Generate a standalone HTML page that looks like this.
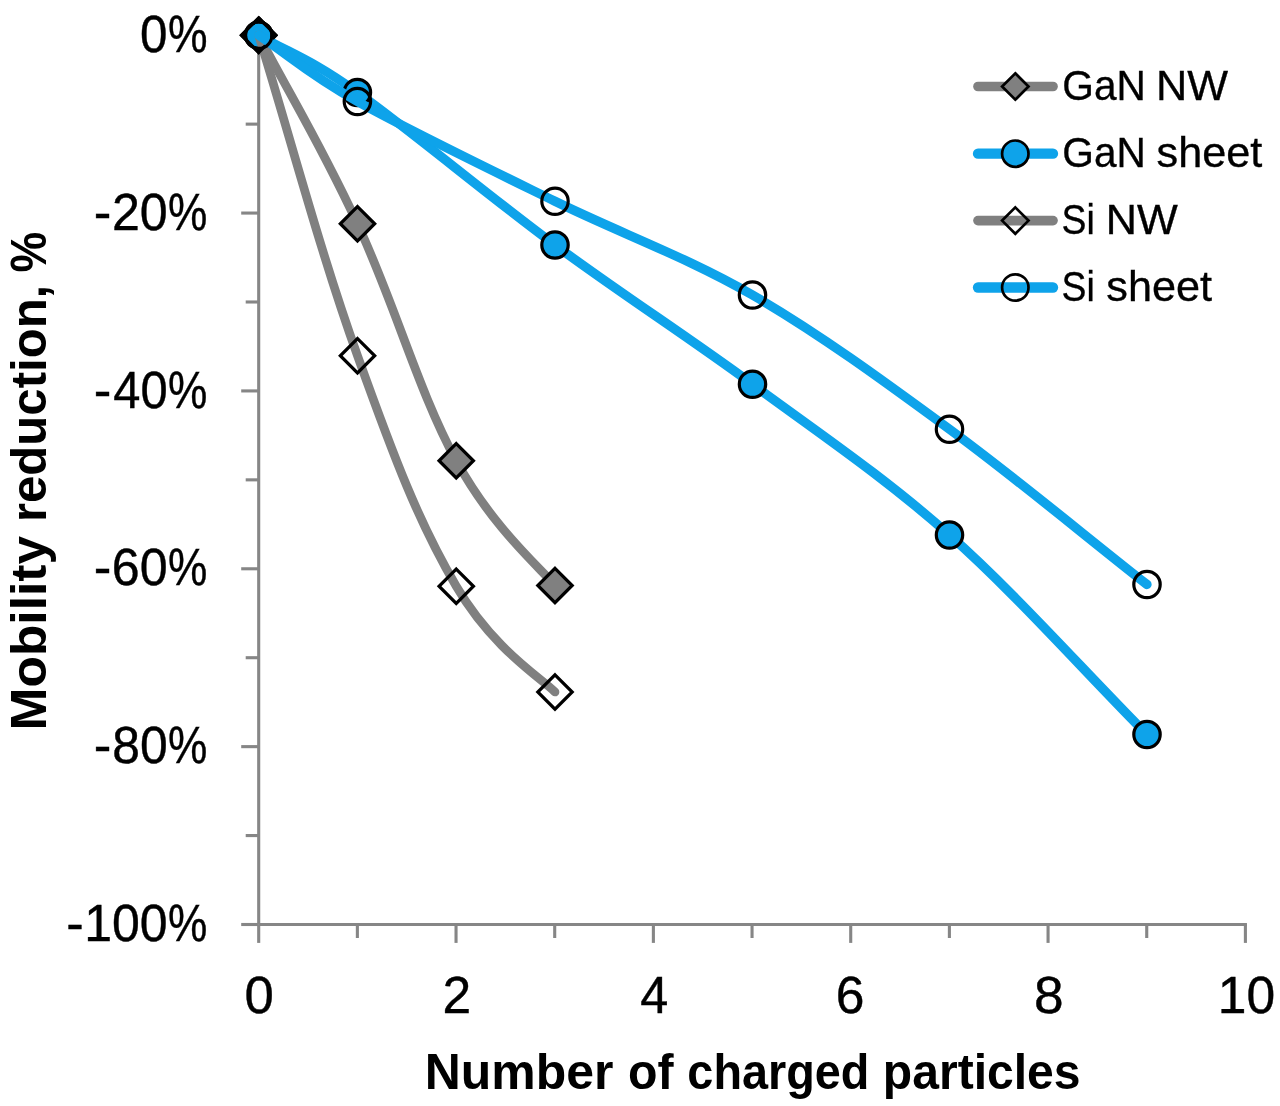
<!DOCTYPE html>
<html lang="en"><head><meta charset="utf-8"><title>Mobility reduction vs number of charged particles</title>
<style>
html,body{margin:0;padding:0;background:#fff;}
body{width:1280px;height:1106px;overflow:hidden;}
svg{display:block;}
text{font-family:"Liberation Sans",sans-serif;fill:#000;}
.t{font-size:51px;stroke:#000;stroke-width:0.4px;}
.b{font-size:49.5px;font-weight:bold;}
.l{font-size:42.5px;stroke:#000;stroke-width:0.35px;}
</style></head><body>
<svg width="1280" height="1106" viewBox="0 0 1280 1106">
<rect width="1280" height="1106" fill="#fff"/>
<g stroke="#868686" stroke-width="3.1" fill="none">
<path d="M258.70 35.20 V924.50"/>
<path d="M258.70 924.50 H1246.95"/>
<path d="M241.20 35.20 H258.70"/>
<path d="M245.70 124.13 H258.70"/>
<path d="M241.20 213.06 H258.70"/>
<path d="M245.70 301.99 H258.70"/>
<path d="M241.20 390.92 H258.70"/>
<path d="M245.70 479.85 H258.70"/>
<path d="M241.20 568.78 H258.70"/>
<path d="M245.70 657.71 H258.70"/>
<path d="M241.20 746.64 H258.70"/>
<path d="M245.70 835.57 H258.70"/>
<path d="M241.20 924.50 H258.70"/>
<path d="M258.70 924.50 V942.90"/>
<path d="M357.37 924.50 V938.00"/>
<path d="M456.04 924.50 V942.90"/>
<path d="M554.71 924.50 V938.00"/>
<path d="M653.38 924.50 V942.90"/>
<path d="M752.05 924.50 V938.00"/>
<path d="M850.72 924.50 V942.90"/>
<path d="M949.39 924.50 V938.00"/>
<path d="M1048.06 924.50 V942.90"/>
<path d="M1146.73 924.50 V938.00"/>
<path d="M1245.40 924.50 V942.90"/>
</g>
<path d="M258.70 35.20 C291.63 98.05 319.97 142.90 357.50 223.75 C395.03 304.60 418.73 392.02 456.25 460.75 C493.77 529.48 543.15 570.53 555.00 585.50" fill="none" stroke="#808080" stroke-width="8.7" stroke-linecap="round" stroke-linejoin="round"/>
<path d="M258.70 18.00 L275.90 35.20 L258.70 52.40 L241.50 35.20 Z" fill="#808080" stroke="#000" stroke-width="3.2" stroke-linejoin="miter"/>
<path d="M357.50 206.55 L374.70 223.75 L357.50 240.95 L340.30 223.75 Z" fill="#808080" stroke="#000" stroke-width="3.2" stroke-linejoin="miter"/>
<path d="M456.25 443.55 L473.45 460.75 L456.25 477.95 L439.05 460.75 Z" fill="#808080" stroke="#000" stroke-width="3.2" stroke-linejoin="miter"/>
<path d="M555.00 568.30 L572.20 585.50 L555.00 602.70 L537.80 585.50 Z" fill="#808080" stroke="#000" stroke-width="3.2" stroke-linejoin="miter"/>
<path d="M258.70 35.20 C291.60 54.30 308.02 57.53 357.40 92.50 C406.78 127.47 489.15 196.38 555.00 245.00 C620.85 293.62 686.75 335.92 752.50 384.25 C818.25 432.58 883.75 476.62 949.50 535.00 C1015.25 593.38 1081.17 668.00 1147.00 734.50" fill="none" stroke="#0ea3ea" stroke-width="9.3" stroke-linecap="round" stroke-linejoin="round"/>
<circle cx="258.70" cy="35.20" r="13.2" fill="#0ea3ea" stroke="#000" stroke-width="3.2"/>
<circle cx="357.40" cy="92.50" r="13.2" fill="#0ea3ea" stroke="#000" stroke-width="3.2"/>
<circle cx="555.00" cy="245.00" r="13.2" fill="#0ea3ea" stroke="#000" stroke-width="3.2"/>
<circle cx="752.50" cy="384.25" r="13.2" fill="#0ea3ea" stroke="#000" stroke-width="3.2"/>
<circle cx="949.50" cy="535.00" r="13.2" fill="#0ea3ea" stroke="#000" stroke-width="3.2"/>
<circle cx="1147.00" cy="734.50" r="13.2" fill="#0ea3ea" stroke="#000" stroke-width="3.2"/>
<path d="M258.70 35.20 C291.63 142.05 319.97 251.05 357.50 355.75 C395.03 460.45 418.73 522.36 456.25 586.25 C493.77 650.14 543.15 679.31 555.00 692.00" fill="none" stroke="#808080" stroke-width="8.7" stroke-linecap="round" stroke-linejoin="round"/>
<path d="M258.70 18.00 L275.90 35.20 L258.70 52.40 L241.50 35.20 Z" fill="none" stroke="#000" stroke-width="3.2" stroke-linejoin="miter"/>
<path d="M357.50 338.55 L374.70 355.75 L357.50 372.95 L340.30 355.75 Z" fill="none" stroke="#000" stroke-width="3.2" stroke-linejoin="miter"/>
<path d="M456.25 569.05 L473.45 586.25 L456.25 603.45 L439.05 586.25 Z" fill="none" stroke="#000" stroke-width="3.2" stroke-linejoin="miter"/>
<path d="M555.00 674.80 L572.20 692.00 L555.00 709.20 L537.80 692.00 Z" fill="none" stroke="#000" stroke-width="3.2" stroke-linejoin="miter"/>
<path d="M258.70 35.20 C291.60 57.30 308.02 73.83 357.40 101.50 C406.78 129.18 489.15 169.00 555.00 201.25 C620.85 233.50 686.75 257.00 752.50 295.00 C818.25 333.00 883.75 381.00 949.50 429.25 C1015.25 477.50 1081.17 532.75 1147.00 584.50" fill="none" stroke="#0ea3ea" stroke-width="9.3" stroke-linecap="round" stroke-linejoin="round"/>
<circle cx="258.70" cy="35.20" r="13.2" fill="none" stroke="#000" stroke-width="3.2"/>
<circle cx="357.40" cy="101.50" r="13.2" fill="none" stroke="#000" stroke-width="3.2"/>
<circle cx="555.00" cy="201.25" r="13.2" fill="none" stroke="#000" stroke-width="3.2"/>
<circle cx="752.50" cy="295.00" r="13.2" fill="none" stroke="#000" stroke-width="3.2"/>
<circle cx="949.50" cy="429.25" r="13.2" fill="none" stroke="#000" stroke-width="3.2"/>
<circle cx="1147.00" cy="584.50" r="13.2" fill="none" stroke="#000" stroke-width="3.2"/>
<text class="t" y="51.80"><tspan x="139.97" textLength="27.46" lengthAdjust="spacingAndGlyphs">0</tspan><tspan x="167.91" textLength="39.57" lengthAdjust="spacingAndGlyphs">%</tspan></text>
<text class="t" y="229.66"><tspan x="93.75" textLength="17.60" lengthAdjust="spacingAndGlyphs">-</tspan><tspan x="111.88" textLength="55.78" lengthAdjust="spacingAndGlyphs">20</tspan><tspan x="168.12" textLength="39.35" lengthAdjust="spacingAndGlyphs">%</tspan></text>
<text class="t" y="407.52"><tspan x="93.75" textLength="17.60" lengthAdjust="spacingAndGlyphs">-</tspan><tspan x="113.28" textLength="54.33" lengthAdjust="spacingAndGlyphs">40</tspan><tspan x="168.12" textLength="39.35" lengthAdjust="spacingAndGlyphs">%</tspan></text>
<text class="t" y="585.38"><tspan x="93.75" textLength="17.60" lengthAdjust="spacingAndGlyphs">-</tspan><tspan x="111.85" textLength="55.81" lengthAdjust="spacingAndGlyphs">60</tspan><tspan x="168.12" textLength="39.35" lengthAdjust="spacingAndGlyphs">%</tspan></text>
<text class="t" y="763.24"><tspan x="93.75" textLength="17.60" lengthAdjust="spacingAndGlyphs">-</tspan><tspan x="112.24" textLength="55.41" lengthAdjust="spacingAndGlyphs">80</tspan><tspan x="168.12" textLength="39.35" lengthAdjust="spacingAndGlyphs">%</tspan></text>
<text class="t" y="941.10"><tspan x="66.37" textLength="17.46" lengthAdjust="spacingAndGlyphs">-</tspan><tspan x="84.19" textLength="83.46" lengthAdjust="spacingAndGlyphs">100</tspan><tspan x="168.12" textLength="39.35" lengthAdjust="spacingAndGlyphs">%</tspan></text>
<text class="t" y="1012.80"><tspan x="244.54" textLength="29.32" lengthAdjust="spacingAndGlyphs">0</tspan></text>
<text class="t" y="1012.80"><tspan x="442.61" textLength="28.69" lengthAdjust="spacingAndGlyphs">2</tspan></text>
<text class="t" y="1012.80"><tspan x="640.24" textLength="28.03" lengthAdjust="spacingAndGlyphs">4</tspan></text>
<text class="t" y="1012.80"><tspan x="835.78" textLength="28.68" lengthAdjust="spacingAndGlyphs">6</tspan></text>
<text class="t" y="1012.80"><tspan x="1033.99" textLength="29.63" lengthAdjust="spacingAndGlyphs">8</tspan></text>
<text class="t" y="1012.80"><tspan x="1217.87" textLength="57.34" lengthAdjust="spacingAndGlyphs">10</tspan></text>
<text class="b" y="1089.40"><tspan x="424.66" textLength="188.70" lengthAdjust="spacingAndGlyphs">Number</tspan> <tspan x="627.91" textLength="45.59" lengthAdjust="spacingAndGlyphs">of</tspan> <tspan x="687.37" textLength="182.11" lengthAdjust="spacingAndGlyphs">charged</tspan> <tspan x="882.83" textLength="197.74" lengthAdjust="spacingAndGlyphs">particles</tspan></text>
<text class="l" y="99.70"><tspan x="1062.36" textLength="83.45" lengthAdjust="spacingAndGlyphs">GaN</tspan> <tspan x="1156.06" textLength="71.99" lengthAdjust="spacingAndGlyphs">NW</tspan></text>
<text class="l" y="166.90"><tspan x="1062.36" textLength="83.45" lengthAdjust="spacingAndGlyphs">GaN</tspan> <tspan x="1156.60" textLength="105.72" lengthAdjust="spacingAndGlyphs">sheet</tspan></text>
<text class="l" y="233.80"><tspan x="1061.50" textLength="33.21" lengthAdjust="spacingAndGlyphs">Si</tspan> <tspan x="1105.76" textLength="71.99" lengthAdjust="spacingAndGlyphs">NW</tspan></text>
<text class="l" y="300.70"><tspan x="1061.50" textLength="33.21" lengthAdjust="spacingAndGlyphs">Si</tspan> <tspan x="1106.30" textLength="105.72" lengthAdjust="spacingAndGlyphs">sheet</tspan></text>
<text class="b" transform="translate(45.60 727.00) rotate(-90)" y="0"><tspan x="-3.44" textLength="194.52" lengthAdjust="spacingAndGlyphs">Mobility</tspan> <tspan x="204.96" textLength="237.32" lengthAdjust="spacingAndGlyphs">reduction,</tspan> <tspan x="454.46" textLength="40.75" lengthAdjust="spacingAndGlyphs">%</tspan></text>
<path d="M978 86.50 H1053" stroke="#808080" stroke-width="9.7" stroke-linecap="round" fill="none"/>
<path d="M1015.30 73.30 L1028.50 86.50 L1015.30 99.70 L1002.10 86.50 Z" fill="#808080" stroke="#000" stroke-width="2.7" stroke-linejoin="miter"/>
<path d="M978 153.70 H1053" stroke="#0ea3ea" stroke-width="10.3" stroke-linecap="round" fill="none"/>
<circle cx="1015.30" cy="153.70" r="13.2" fill="#0ea3ea" stroke="#000" stroke-width="2.7"/>
<path d="M978 220.60 H1053" stroke="#808080" stroke-width="9.7" stroke-linecap="round" fill="none"/>
<path d="M1015.30 207.40 L1028.50 220.60 L1015.30 233.80 L1002.10 220.60 Z" fill="none" stroke="#000" stroke-width="2.7" stroke-linejoin="miter"/>
<path d="M978 287.50 H1053" stroke="#0ea3ea" stroke-width="10.3" stroke-linecap="round" fill="none"/>
<circle cx="1015.30" cy="287.50" r="13.2" fill="none" stroke="#000" stroke-width="2.7"/>
</svg></body></html>
